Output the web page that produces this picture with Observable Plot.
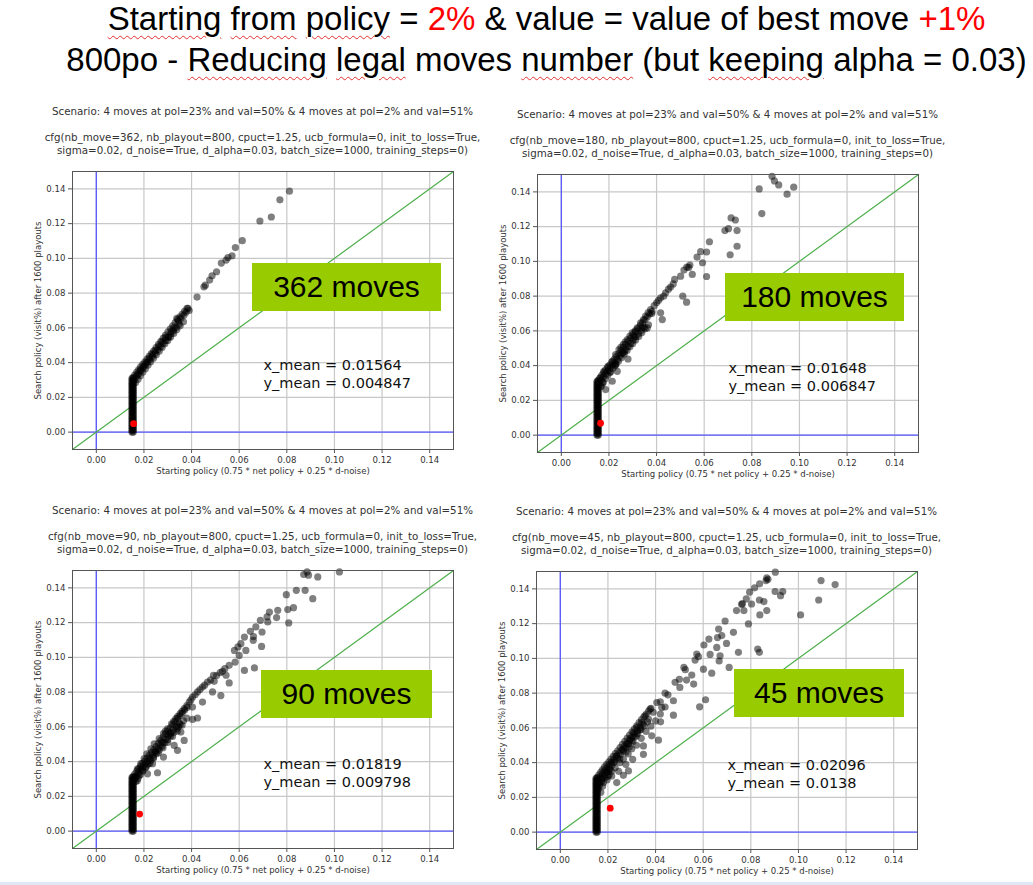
<!DOCTYPE html>
<html><head><meta charset="utf-8">
<script src="https://cdn.jsdelivr.net/npm/d3@7"></script>
<script src="https://cdn.jsdelivr.net/npm/@observablehq/plot@0.6"></script>
<style>
body{margin:0;background:#fff;}
#page{position:relative;width:1033px;height:885px;overflow:hidden;font-family:"DejaVu Sans",sans-serif;background:#fff;}
.title{position:absolute;left:30px;width:1033px;text-align:center;font-family:"Liberation Sans",Arial,sans-serif;font-size:33px;line-height:40px;color:#000;white-space:nowrap;}
.red{color:#ff0000}
.sp{text-decoration:underline wavy #e03030 1px;text-underline-offset:5px;}
.sub{position:absolute;width:470px;text-align:center;font-size:10.3px;color:#333;white-space:nowrap;line-height:13px}
.box{position:absolute;background:#99cc00;font-family:"Liberation Sans",Arial,sans-serif;font-size:30px;display:flex;align-items:center;justify-content:center;color:#000}
.panel{position:absolute}
.bottomline{position:absolute;left:0;top:882px;width:1033px;height:3px;background:#dfe9f5}
</style></head><body><div id="page"></div>
<script>
// ---- data ----
const moveCounts = [362, 180, 90, 45];
const xMeans = ["0.01564", "0.01648", "0.01819", "0.02096"];
const yMeans = ["0.004847", "0.006847", "0.009798", "0.0138"];
const ticks = [0, 0.02, 0.04, 0.06, 0.08, 0.10, 0.12, 0.14];
const xDomain = [-0.01, 0.15];
const yDomain = [-0.01, 0.15];
const scenarioText = "Scenario: 4 moves at pol=23% and val=50% & 4 moves at pol=2% and val=51%";
const xLabel = "Starting policy (0.75 * net policy + 0.25 * d-noise)";
const yLabel = "Search policy (visit%) after 1600 playouts";

// dense column of unexplored moves
const columnX = [0.0150, 0.0155];
const columnY = [0,0.001,0.002,0.003,0.004,0.005,0.006,0.007,0.008,0.009,0.010,0.011,0.012,0.013,0.014,0.015,0.016,0.017,0.018,0.019,0.020,0.021,0.022,0.023,0.024,0.025,0.026,0.027,0.028,0.029,0.030,0.031];
// dense upper curve shared by all runs
const envelope = [[0.0155,0.0315],[0.0162,0.0330],[0.0170,0.0345],[0.0178,0.0360],[0.0186,0.0375],[0.0195,0.0390],[0.0204,0.0405],[0.0213,0.0420],[0.0222,0.0436],[0.0231,0.0452],[0.0241,0.0468],[0.0251,0.0487],[0.0261,0.0505],[0.0271,0.0523],[0.0281,0.0541],[0.0291,0.0559],[0.0301,0.0577],[0.0311,0.0595],[0.0321,0.0612],[0.0331,0.0630],[0.0341,0.0647],[0.0351,0.0664],[0.0361,0.0680],[0.0371,0.0697],[0.0381,0.0712]];
const envelopeInner = [[0.0160,0.0300],[0.0168,0.0318],[0.0177,0.0335],[0.0186,0.0352],[0.0195,0.0368],[0.0205,0.0385],[0.0215,0.0402],[0.0225,0.0418],[0.0236,0.0436],[0.0247,0.0455],[0.0258,0.0474],[0.0269,0.0492],[0.0280,0.0510],[0.0291,0.0528],[0.0302,0.0547],[0.0313,0.0566],[0.0324,0.0584],[0.0336,0.0603],[0.0348,0.0622]];
const envelopeLow = [[0.0165,0.0285],[0.0175,0.0305],[0.0185,0.0325],[0.0195,0.0345],[0.0206,0.0365],[0.0217,0.0385],[0.0228,0.0405],[0.0240,0.0425],[0.0252,0.0445],[0.0264,0.0466],[0.0276,0.0487],[0.0288,0.0508],[0.0300,0.0528],[0.0312,0.0548],[0.0325,0.0568],[0.0338,0.0590],[0.0352,0.0612],[0.0366,0.0635]];

const points362 = [[0.0811,0.1387],[0.0771,0.1337],[0.0735,0.1238],[0.0687,0.1215],[0.0613,0.1102],[0.0584,0.1062],[0.0570,0.1015],[0.0553,0.1005],[0.0545,0.0990],[0.0525,0.0973],[0.0505,0.0923],[0.0486,0.0900],[0.0476,0.0875],[0.0458,0.0846],[0.0452,0.0836],[0.0423,0.0777],[0.0390,0.0700],[0.0385,0.0712],[0.0377,0.0690],[0.0368,0.0672],[0.0355,0.0655],[0.0345,0.0640],[0.0338,0.0655],[0.0326,0.0600],[0.0305,0.0548],[0.0315,0.0580],[0.0290,0.0545],[0.0275,0.0520],[0.0262,0.0495],[0.0248,0.0470],[0.0235,0.0448],[0.0222,0.0425],[0.0210,0.0400],[0.0198,0.0378],[0.0185,0.0355],[0.0172,0.0330]];
const points180 = [[0.0885,0.1490],[0.0895,0.1463],[0.0913,0.1440],[0.0831,0.1417],[0.0976,0.1427],[0.0948,0.1387],[0.0842,0.1275],[0.0713,0.1250],[0.0731,0.1238],[0.0702,0.1188],[0.0687,0.1177],[0.0738,0.1177],[0.0622,0.1113],[0.0738,0.1087],[0.0709,0.1038],[0.0585,0.1056],[0.0610,0.1054],[0.0570,0.1025],[0.0593,0.0992],[0.0610,0.0913],[0.0540,0.0979],[0.0535,0.0965],[0.0550,0.0925],[0.0527,0.0967],[0.0515,0.0950],[0.0501,0.0915],[0.0510,0.0800],[0.0526,0.0765],[0.0476,0.0896],[0.0470,0.0870],[0.0459,0.0852],[0.0450,0.0840],[0.0438,0.0819],[0.0430,0.0800],[0.0417,0.0790],[0.0408,0.0775],[0.0400,0.0762],[0.0417,0.0704],[0.0424,0.0665],[0.0390,0.0745],[0.0375,0.0723],[0.0380,0.0700],[0.0365,0.0705],[0.0354,0.0685],[0.0361,0.0617],[0.0345,0.0665],[0.0333,0.0646],[0.0340,0.0620],[0.0319,0.0617],[0.0310,0.0600],[0.0298,0.0588],[0.0305,0.0565],[0.0288,0.0570],[0.0277,0.0550],[0.0268,0.0535],[0.0260,0.0521],[0.0280,0.0438],[0.0250,0.0505],[0.0242,0.0492],[0.0255,0.0470],[0.0228,0.0463],[0.0235,0.0367],[0.0214,0.0425],[0.0225,0.0400],[0.0196,0.0396],[0.0214,0.0310],[0.0179,0.0367],[0.0186,0.0262],[0.0165,0.0329],[0.0175,0.0300],[0.0168,0.0280],[0.0205,0.0360],[0.0230,0.0410],[0.0265,0.0480]];
const points90 = [[0.0885,0.1492],[0.0871,0.1477],[0.0891,0.1473],[0.0930,0.1463],[0.1021,0.1492],[0.0798,0.1361],[0.0840,0.1386],[0.0877,0.1386],[0.0909,0.1338],[0.0804,0.1275],[0.0828,0.1286],[0.0762,0.1271],[0.0727,0.1261],[0.0757,0.1229],[0.0717,0.1233],[0.0689,0.1213],[0.0720,0.1204],[0.0808,0.1198],[0.0670,0.1175],[0.0647,0.1150],[0.0660,0.1120],[0.0622,0.1117],[0.0659,0.1098],[0.0696,0.1146],[0.0694,0.1063],[0.0607,0.1079],[0.0595,0.1060],[0.0580,0.1040],[0.0628,0.1040],[0.0600,0.1011],[0.0583,0.0973],[0.0622,0.0925],[0.0664,0.0939],[0.0558,0.0954],[0.0540,0.0935],[0.0530,0.0920],[0.0520,0.0912],[0.0505,0.0895],[0.0492,0.0897],[0.0495,0.0862],[0.0545,0.0897],[0.0558,0.0853],[0.0523,0.0780],[0.0480,0.0870],[0.0467,0.0858],[0.0455,0.0840],[0.0446,0.0829],[0.0435,0.0815],[0.0425,0.0801],[0.0488,0.0801],[0.0446,0.0743],[0.0415,0.0785],[0.0404,0.0772],[0.0397,0.0755],[0.0390,0.0743],[0.0404,0.0714],[0.0380,0.0722],[0.0369,0.0705],[0.0360,0.0690],[0.0352,0.0676],[0.0425,0.0651],[0.0404,0.0643],[0.0342,0.0660],[0.0334,0.0647],[0.0325,0.0632],[0.0316,0.0618],[0.0355,0.0570],[0.0369,0.0522],[0.0345,0.0600],[0.0299,0.0589],[0.0290,0.0575],[0.0282,0.0561],[0.0310,0.0560],[0.0327,0.0493],[0.0341,0.0465],[0.0264,0.0532],[0.0275,0.0510],[0.0243,0.0503],[0.0282,0.0426],[0.0257,0.0336],[0.0229,0.0474],[0.0250,0.0460],[0.0212,0.0445],[0.0201,0.0417],[0.0236,0.0388],[0.0187,0.0388],[0.0215,0.0330],[0.0173,0.0359],[0.0166,0.0311],[0.0180,0.0320],[0.0172,0.0290],[0.0195,0.0350],[0.0210,0.0370],[0.0225,0.0390],[0.0240,0.0420],[0.0260,0.0450],[0.0280,0.0480],[0.0300,0.0510],[0.0320,0.0545],[0.0340,0.0575],[0.0360,0.0610],[0.0380,0.0650]];
const points45 = [[0.0903,0.1496],[0.0867,0.1463],[0.0864,0.1448],[0.0872,0.1455],[0.1095,0.1448],[0.1154,0.1425],[0.0837,0.1429],[0.0816,0.1406],[0.0795,0.1381],[0.0902,0.1385],[0.0934,0.1385],[0.0925,0.1361],[0.0781,0.1342],[0.0761,0.1311],[0.0765,0.1315],[0.0836,0.1336],[0.0855,0.1327],[0.0803,0.1313],[0.1085,0.1336],[0.0740,0.1275],[0.0771,0.1275],[0.0838,0.1250],[0.0867,0.1275],[0.1009,0.1250],[0.0692,0.1215],[0.0790,0.1198],[0.0665,0.1169],[0.0660,0.1120],[0.0727,0.1150],[0.0624,0.1111],[0.0678,0.1131],[0.0698,0.1086],[0.0603,0.1077],[0.0657,0.1063],[0.0748,0.1035],[0.0829,0.1054],[0.0836,0.1035],[0.0573,0.1025],[0.0580,0.1010],[0.0566,0.0990],[0.0671,0.1015],[0.0629,0.1023],[0.0667,0.0985],[0.0709,0.0948],[0.0519,0.0948],[0.0525,0.0935],[0.0552,0.0904],[0.0601,0.0938],[0.0636,0.0915],[0.0530,0.0875],[0.0500,0.0880],[0.0482,0.0862],[0.0502,0.0833],[0.0560,0.0852],[0.0440,0.0800],[0.0452,0.0790],[0.0475,0.0756],[0.0610,0.0762],[0.0585,0.0721],[0.0405,0.0746],[0.0420,0.0750],[0.0426,0.0717],[0.0475,0.0673],[0.0421,0.0635],[0.0377,0.0708],[0.0390,0.0690],[0.0356,0.0669],[0.0370,0.0650],[0.0342,0.0631],[0.0384,0.0554],[0.0412,0.0529],[0.0321,0.0602],[0.0335,0.0590],[0.0307,0.0573],[0.0320,0.0555],[0.0349,0.0496],[0.0349,0.0448],[0.0293,0.0538],[0.0305,0.0520],[0.0279,0.0506],[0.0290,0.0490],[0.0265,0.0477],[0.0275,0.0460],[0.0304,0.0419],[0.0265,0.0327],[0.0286,0.0352],[0.0237,0.0438],[0.0250,0.0420],[0.0223,0.0400],[0.0237,0.0285],[0.0209,0.0361],[0.0216,0.0323],[0.0188,0.0313],[0.0181,0.0285],[0.0160,0.0250],[0.0165,0.0270],[0.0172,0.0290],[0.0170,0.0230],[0.0178,0.0265],[0.0190,0.0340],[0.0200,0.0350],[0.0196,0.0300],[0.0205,0.0330],[0.0175,0.0310],[0.0200,0.0320],[0.0215,0.0350],[0.0230,0.0370],[0.0250,0.0400],[0.0265,0.0420],[0.0285,0.0450],[0.0300,0.0480],[0.0320,0.0500],[0.0340,0.0540],[0.0360,0.0580],[0.0380,0.0610],[0.0400,0.0640],[0.0420,0.0680],[0.0440,0.0720],[0.0245,0.0350],[0.0275,0.0390]];
const panelPoints = [points362, points180, points90, points45];

// ---- layout (page pixels) ----
const frames = [{l:72,t:171},{l:537,t:174},{l:72,t:570},{l:536,t:571}];
const boxes = [{l:252,t:263,w:189},{l:725,t:273,w:179},{l:261,t:670,w:171},{l:734,t:669,w:170}];
const ML = 70, MT = 10, FW = 381, FH = 278;

const page = document.getElementById("page");
page.innerHTML = `
<div class="title" style="top:-1px"><span class="sp">Starting</span> <span class="sp">from</span> <span class="sp">policy</span> = <span class="red">2%</span> &amp; value = value of best move <span class="red">+1%</span></div>
<div class="title" style="top:40px">800po - <span class="sp">Reducing</span> <span class="sp">legal</span> moves <span class="sp">number</span> (but <span class="sp">keeping</span> alpha = 0.03)</div>
<div class="bottomline"></div>`;

const columnPts = columnX.flatMap(x => columnY.map(y => [x, y]));
const fmt = d3.format(".2f");

moveCounts.forEach((n, i) => {
  const f = frames[i];
  const cx = f.l + FW / 2;
  const sub = document.createElement("div");
  sub.className = "sub";
  sub.style.left = (cx - 235) + "px";
  sub.style.top = (f.t - 66) + "px";
  sub.innerHTML = `${scenarioText}<div style="height:13px"></div>cfg(nb_move=${n}, nb_playout=800, cpuct=1.25, ucb_formula=0, init_to_loss=True,<br>sigma=0.02, d_noise=True, d_alpha=0.03, batch_size=1000, training_steps=0)`;
  page.appendChild(sub);

  const pts = [...columnPts, ...envelope, ...envelopeInner, ...envelopeLow, ...panelPoints[i]];
  const diag = xDomain.map(v => ({x: v, y: v}));
  const chart = Plot.plot({
    width: ML + FW + 19, height: MT + FH + 40,
    marginLeft: ML, marginRight: 19, marginTop: MT, marginBottom: 40,
    x: {domain: xDomain},
    y: {domain: yDomain},
    style: {fontFamily: "DejaVu Sans", fontSize: "8.4px", color: "#333", background: "transparent", overflow: "visible"},
    marks: [
      Plot.gridX({ticks, stroke: "#c8c8c8", strokeOpacity: 1, strokeWidth: 1.2}),
      Plot.gridY({ticks, stroke: "#c8c8c8", strokeOpacity: 1, strokeWidth: 1.2}),
      Plot.ruleX([0], {stroke: "#5a5aff", strokeWidth: 1.3}),
      Plot.ruleY([0], {stroke: "#5a5aff", strokeWidth: 1.3}),
      Plot.line(diag, {x: "x", y: "y", stroke: "#4daf4a", strokeWidth: 1.2}),
      Plot.dot(pts, {x: d => d[0], y: d => d[1], r: 3.6, fill: "black", fillOpacity: 0.5, stroke: "none"}),
      Plot.dot([[+xMeans[i], +yMeans[i]]], {x: d => d[0], y: d => d[1], r: 3.4, fill: "#ff0000", stroke: "none"}),
      Plot.frame({stroke: "#555"}),
      Plot.axisX({ticks, tickFormat: fmt, tickSize: 4, tickPadding: 3, label: null, stroke: "#555", fontSize: 8.6}),
      Plot.axisY({ticks, tickFormat: fmt, tickSize: 4, tickPadding: 3, label: null, stroke: "#555", fontSize: 8.6}),
      Plot.text([xLabel], {frameAnchor: "bottom", dy: 22, text: d => d, fill: "#333", lineAnchor: "middle", fontSize: 8.5}),
      Plot.text([yLabel], {frameAnchor: "left", dx: -34, rotate: -90, text: d => d, fill: "#333", textAnchor: "middle", lineAnchor: "middle", fontSize: 8.5}),
      Plot.text([`x_mean = ${xMeans[i]}`], {frameAnchor: "top-left", dx: 191, dy: 194, text: d => d, textAnchor: "start", lineAnchor: "middle", fontSize: 14.5, fill: "#111"}),
      Plot.text([`y_mean = ${yMeans[i]}`], {frameAnchor: "top-left", dx: 191, dy: 212, text: d => d, textAnchor: "start", lineAnchor: "middle", fontSize: 14.5, fill: "#111"})
    ]
  });
  const holder = document.createElement("div");
  holder.className = "panel";
  holder.style.left = (f.l - ML) + "px";
  holder.style.top = (f.t - MT) + "px";
  holder.appendChild(chart);
  page.appendChild(holder);

  const b = boxes[i];
  const box = document.createElement("div");
  box.className = "box";
  box.style.left = b.l + "px";
  box.style.top = b.t + "px";
  box.style.width = b.w + "px";
  box.style.height = "48px";
  box.textContent = `${n} moves`;
  page.appendChild(box);
});
</script>
</body></html>
